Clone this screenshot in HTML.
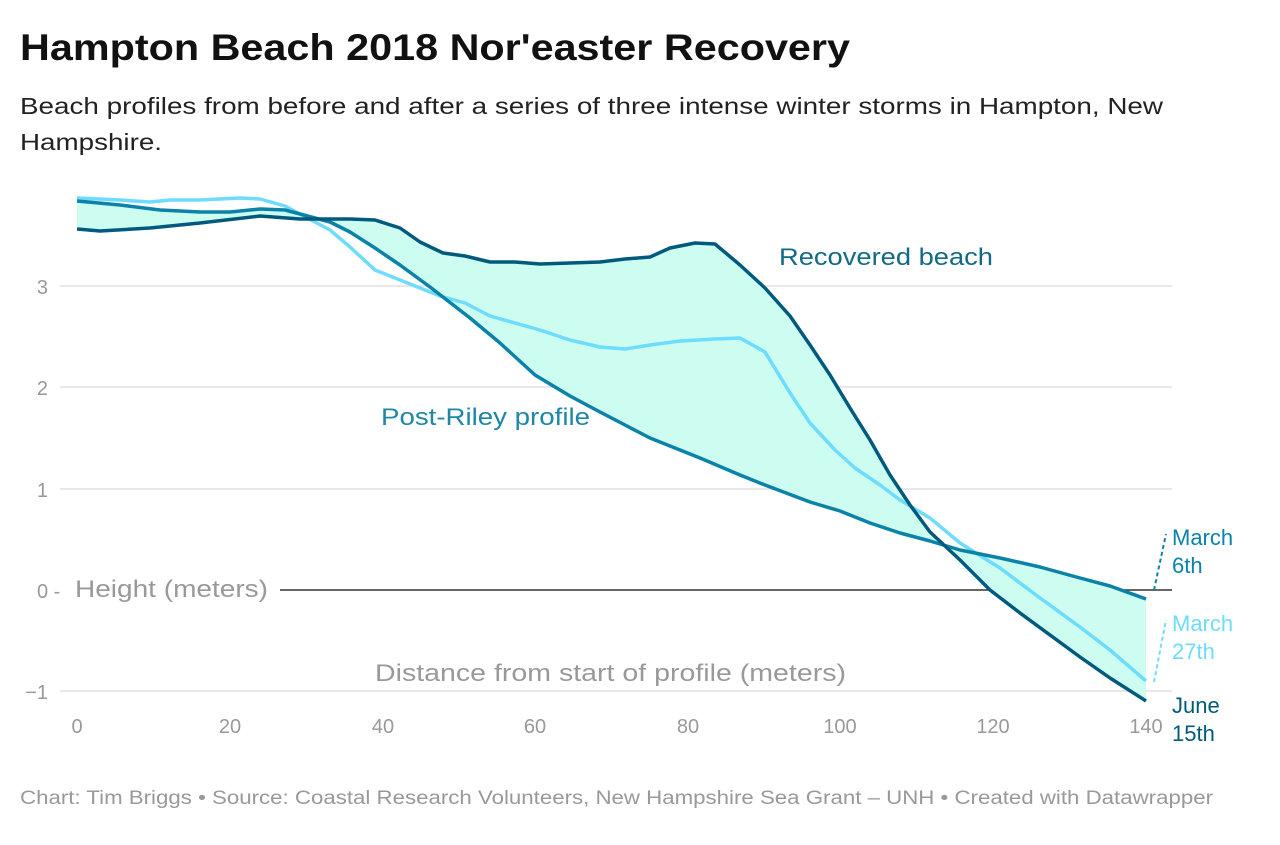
<!DOCTYPE html>
<html><head><meta charset="utf-8"><style>
body{margin:0;background:#fff;font-family:"Liberation Sans",sans-serif;}
</style></head><body>
<svg width="1280" height="840" xmlns="http://www.w3.org/2000/svg" font-family="Liberation Sans, sans-serif">
<rect width="1280" height="840" fill="#fff"/>
<text x="20" y="60" font-size="37" font-weight="bold" fill="#111" textLength="830" lengthAdjust="spacingAndGlyphs">Hampton Beach 2018 Nor'easter Recovery</text>
<text x="20" y="114" font-size="23" fill="#222" textLength="1143" lengthAdjust="spacingAndGlyphs">Beach profiles from before and after a series of three intense winter storms in Hampton, New</text>
<text x="20" y="150" font-size="23" fill="#222" textLength="142" lengthAdjust="spacingAndGlyphs">Hampshire.</text>
<g stroke="#e0e0e0" stroke-width="1.5">
<line x1="60" y1="286" x2="1172" y2="286"/><line x1="60" y1="387" x2="1172" y2="387"/>
<line x1="60" y1="489" x2="1172" y2="489"/><line x1="60" y1="691" x2="1172" y2="691"/>
</g>
<line x1="280" y1="590" x2="1172" y2="590" stroke="#333" stroke-width="1.5"/>
<g font-size="20" fill="#999" text-anchor="end">
<text x="48" y="294">3</text><text x="48" y="395">2</text><text x="48" y="497">1</text><text x="48" y="699">−1</text>
</g>
<text x="37" y="598" font-size="20" fill="#999">0 - </text>
<text x="75" y="597" font-size="24" fill="#999" textLength="193" lengthAdjust="spacingAndGlyphs">Height (meters)</text>
<text x="375" y="681" font-size="24" fill="#999" textLength="471" lengthAdjust="spacingAndGlyphs">Distance from start of profile (meters)</text>
<g font-size="20" fill="#999" text-anchor="middle">
<text x="77" y="733">0</text><text x="230" y="733">20</text><text x="383" y="733">40</text><text x="535" y="733">60</text><text x="688" y="733">80</text><text x="840" y="733">100</text><text x="993" y="733">120</text><text x="1146" y="733">140</text>
</g>
<polygon fill="#ccfdf0" points="77,201 120,205 160,210 200,212 230,212 260,209 285,210 330,222 350,232 375,248 400,265 430,287 470,318 500,343 535,375 570,396 600,412 625,425 650,438 680,450 700,458 740,475 765,485 810,502 840,511 870,523 900,533 930,541 960,550 1000,558 1040,567 1080,578 1110,586 1146,599 1146,701 1110,678 1080,657 1050,635 1020,613 990,590 960,560 930,532 910,505 890,475 870,440 850,408 830,375 810,345 790,316 765,288 740,265 715,244 695,243 670,248 650,257 625,259 600,262 570,263 540,264 515,262 490,262 465,256 443,253 420,242 400,228 375,220 350,219 300,219 260,216 200,223 150,228 100,231 77,229"/>
<g fill="none" stroke-width="3.5" stroke-linejoin="round">
<polyline stroke="#6edcff" points="77,198 120,200 150,202 170,200 200,200 240,198 260,199 285,206 300,214 330,230 350,247 375,270 400,280 440,296 465,303 490,316 540,330 570,340 600,347 625,349 650,345 680,341 715,339 740,338 765,352 790,393 810,423 835,450 855,468 880,485 900,500 930,518 960,543 1000,568 1040,598 1080,627 1110,650 1146,681"/>
<polyline stroke="#0b82a8" points="77,201 120,205 160,210 200,212 230,212 260,209 285,210 330,222 350,232 375,248 400,265 430,287 470,318 500,343 535,375 570,396 600,412 625,425 650,438 680,450 700,458 740,475 765,485 810,502 840,511 870,523 900,533 930,541 960,550 1000,558 1040,567 1080,578 1110,586 1146,599"/>
<polyline stroke="#015a7e" points="77,229 100,231 150,228 200,223 260,216 300,219 350,219 375,220 400,228 420,242 443,253 465,256 490,262 515,262 540,264 570,263 600,262 625,259 650,257 670,248 695,243 715,244 740,265 765,288 790,316 810,345 830,375 850,408 870,440 890,475 910,505 930,532 960,560 990,590 1020,613 1050,635 1080,657 1110,678 1146,701"/>
</g>
<line x1="1154" y1="590" x2="1166" y2="534" stroke="#0b82a8" stroke-width="2" stroke-dasharray="4,3"/>
<line x1="1154" y1="682" x2="1166" y2="620" stroke="#6edcff" stroke-width="2" stroke-dasharray="4,3"/>
<g font-size="22">
<text x="1172" y="545" fill="#0b82a8">March</text><text x="1172" y="573" fill="#0b82a8">6th</text>
<text x="1172" y="631" fill="#6edcff">March</text><text x="1172" y="659" fill="#6edcff">27th</text>
<text x="1172" y="713" fill="#015a7e">June</text><text x="1172" y="741" fill="#015a7e">15th</text>
</g>
<text x="779" y="265" font-size="24" fill="#136a87" textLength="214" lengthAdjust="spacingAndGlyphs">Recovered beach</text>
<text x="381" y="425" font-size="24" fill="#1d87a6" textLength="209" lengthAdjust="spacingAndGlyphs">Post-Riley profile</text>
<text x="20" y="804" font-size="19" fill="#999" textLength="1193" lengthAdjust="spacingAndGlyphs">Chart: Tim Briggs • Source: Coastal Research Volunteers, New Hampshire Sea Grant – UNH • Created with Datawrapper</text>
</svg>
</body></html>
